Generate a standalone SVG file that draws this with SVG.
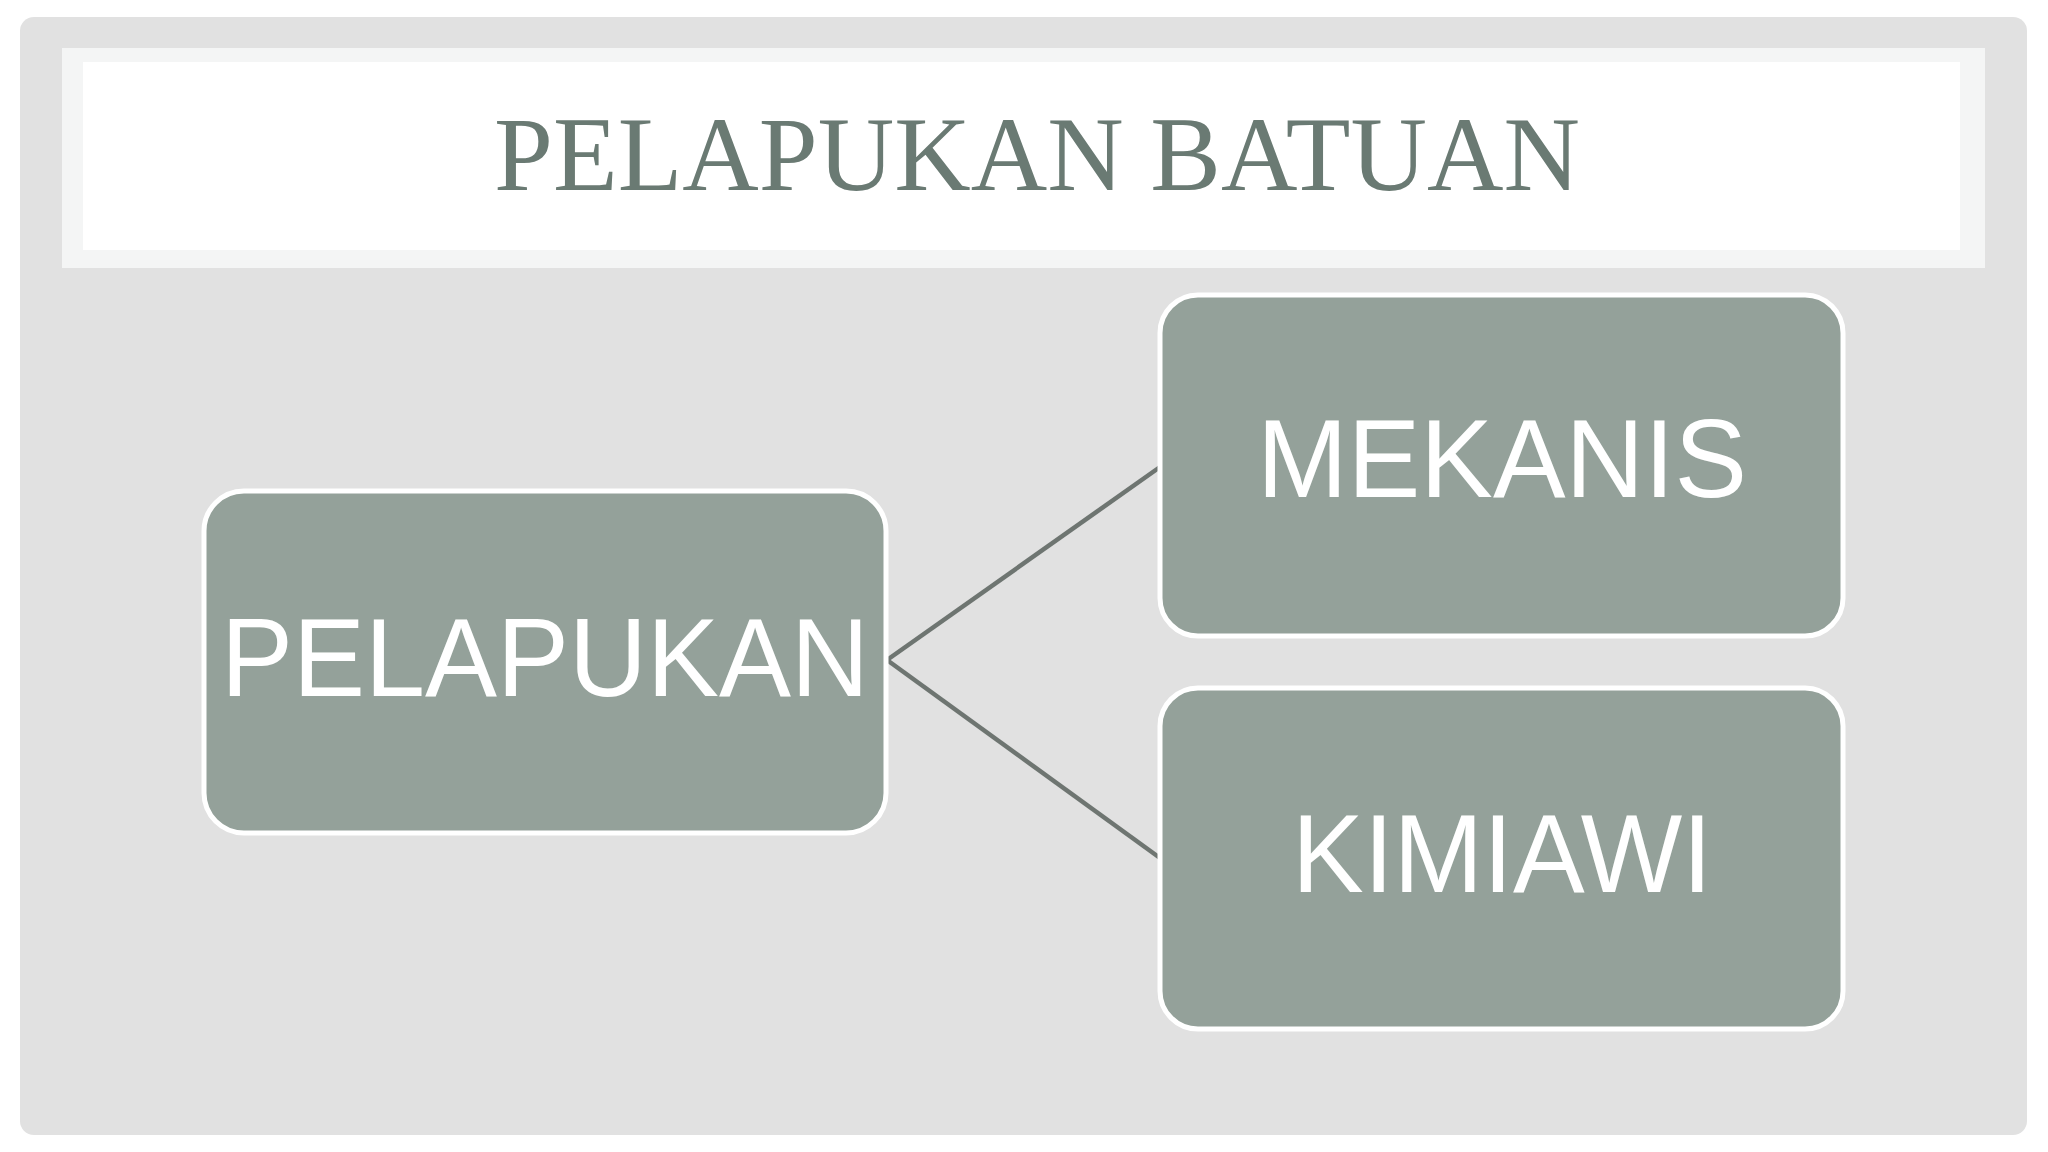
<svg xmlns="http://www.w3.org/2000/svg" width="2048" height="1152" viewBox="0 0 2048 1152">
  <style>
    .node rect { fill: #94a19a; stroke: #ffffff; stroke-width: 5; }
    .node text { font-family: "Liberation Sans", Arial, sans-serif; font-size: 111px; fill: #ffffff; text-anchor: middle; }
    .conn line { stroke: #6e7571; stroke-width: 4.5; }
    .title { font-family: "Liberation Serif", "Times New Roman", serif; font-size: 105px; fill: #6a7a73; text-anchor: middle; }
  </style>
  <rect x="0" y="0" width="2048" height="1152" fill="#ffffff"/>
  <rect id="panel" x="20" y="17" width="2007" height="1118" rx="14" fill="#e1e1e1"/>
  <g id="titlebar">
    <rect x="62" y="48" width="1923" height="220" fill="#f4f5f5"/>
    <rect x="83" y="62" width="1877" height="188" fill="#ffffff"/>
    <text class="title" x="1037" y="190" textLength="1086" lengthAdjust="spacingAndGlyphs">PELAPUKAN BATUAN</text>
  </g>
  <g id="connectors" class="conn">
    <line x1="887" y1="660" x2="1160" y2="467"/>
    <line x1="887" y1="660" x2="1160" y2="858"/>
  </g>
  <g id="node-pelapukan" class="node">
    <rect x="204" y="491" width="682" height="342" rx="40"/>
    <text x="545" y="696" textLength="648" lengthAdjust="spacingAndGlyphs">PELAPUKAN</text>
  </g>
  <g id="node-mekanis" class="node">
    <rect x="1160" y="295" width="683" height="341" rx="38"/>
    <text x="1502" y="497" textLength="490" lengthAdjust="spacingAndGlyphs">MEKANIS</text>
  </g>
  <g id="node-kimiawi" class="node">
    <rect x="1160" y="688" width="683" height="341" rx="38"/>
    <text x="1502" y="892" textLength="420" lengthAdjust="spacingAndGlyphs">KIMIAWI</text>
  </g>
</svg>
